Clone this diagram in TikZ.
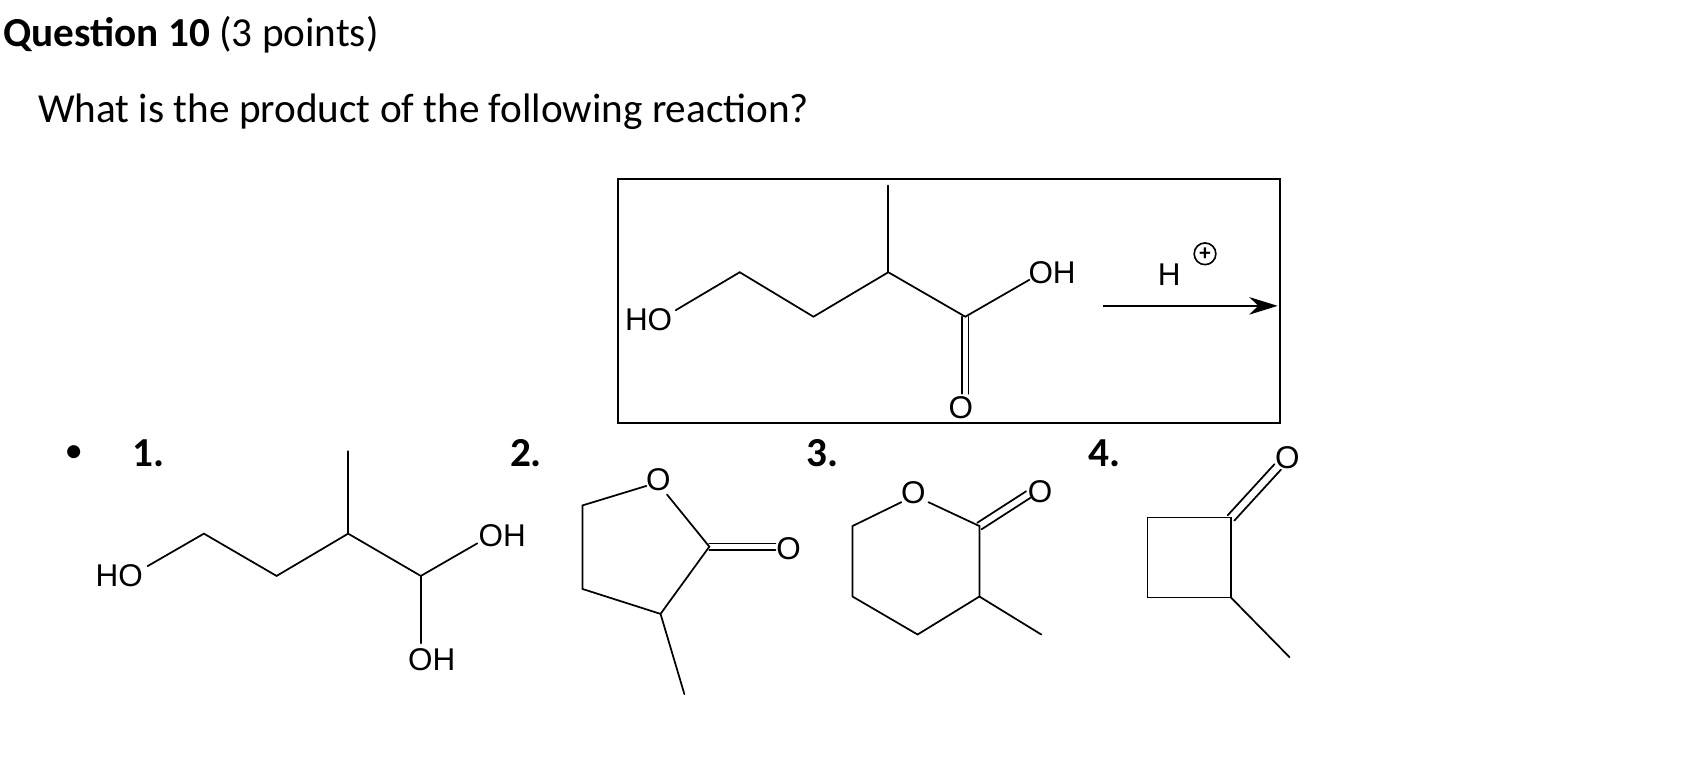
\documentclass[tikz,border=0pt]{standalone}
\usepackage{fontspec}
\setmainfont{Carlito}
\newfontfamily\chemfont{Liberation Sans}
\usetikzlibrary{arrows.meta}
\begin{document}
\begin{tikzpicture}[x=1pt,y=-1pt,
  bond/.style={line width=1.6pt,line cap=round},
  atom/.style={font=\chemfont\fontsize{29}{29}\selectfont,inner sep=0pt},
  optlabel/.style={font=\bfseries\fontsize{38}{38}\selectfont,inner sep=0pt}]
\useasboundingbox (0,0) rectangle (1560,717);
\node[anchor=west,inner sep=0pt,font=\fontsize{38}{38}\selectfont] (title) at (3,32) {\textbf{Question 10} (3 points)};
\node[anchor=west,inner sep=0pt,font=\fontsize{38}{38}\selectfont] (q) at (35,103) {What is the product of the following reaction?};
% box
\draw[line width=1.4pt] (570,165) rectangle (1180,390);
% reactant
\node[atom] (rHO) at (598,295) {HO};
\node[atom] (rOH) at (970,251) {OH};
\node[atom] (rO) at (886,376) {O};
\coordinate (r1) at (682,251); \coordinate (r2) at (750,292); \coordinate (r3) at (819,251);
\coordinate (r4) at (890,292); \coordinate (rm) at (819,171);
\draw[bond] (623,286) -- (r1) -- (r2) -- (r3) -- (r4) -- (949,258);
\draw[bond] (r3) -- (rm);
\draw[bond] (887,292) -- (887,363);
\draw[bond] (893,292) -- (893,363);
\node[atom] (H) at (1078,253) {H};
\node[circle,draw,line width=1.5pt,inner sep=0pt,minimum size=20pt,font=\bfseries\fontsize{21}{21}\selectfont] (plus) at (1111,234) {+};
\coordinate (a1) at (1017,282); \coordinate (a2) at (1178,282);
\draw[line width=2.4pt,-{Stealth[length=26pt,width=16pt,inset=8pt]}] (a1) -- (a2);
% labels
\node[font=\fontsize{34}{34}\selectfont] (bul) at (68,419) {\textbullet};
\node[optlabel] (o1) at (137,418) {1.};
\node[optlabel] (o2) at (485,418) {2.};
\node[optlabel] (o3) at (758,418) {3.};
\node[optlabel] (o4) at (1018,418) {4.};
% option 1
\node[atom] (aHO) at (110,531) {HO};
\node[atom] (aOH1) at (463,494) {OH};
\node[atom] (aOH2) at (398,608) {OH};
\coordinate (b1) at (188,492); \coordinate (b2) at (255,531); \coordinate (b3) at (321,492); \coordinate (b4) at (388,531);
\draw[bond] (136,522) -- (b1) -- (b2) -- (b3) -- (b4) -- (440,501);
\draw[bond] (b3) -- (321,416);
\draw[bond] (b4) -- (388,593);
% option 2
\node[atom] (cO) at (607,442) {O};
\node[atom] (cO2) at (727,506) {O};
\coordinate (c1) at (537,466); \coordinate (c2) at (537,543); \coordinate (c3) at (609,566); \coordinate (c4) at (654,504);
\draw[bond] (596,448) -- (c1) -- (c2) -- (c3) -- (c4) -- (615,456);
\draw[bond] (654,501) -- (715,501);
\draw[bond] (654,507) -- (715,507);
\draw[bond] (c3) -- (631,640);
% option 3
\node[atom] (dO) at (842,454) {O};
\node[atom] (dO2) at (959,453) {O};
\coordinate (d1) at (786,485); \coordinate (d2) at (786,550); \coordinate (d3) at (846,585); \coordinate (d4) at (903,550); \coordinate (d5) at (903,485);
\draw[bond] (831,463) -- (d1) -- (d2) -- (d3) -- (d4) -- (d5) -- (856,463);
\draw[bond] (901,482) -- (946,453);
\draw[bond] (905,488) -- (950,459);
\draw[bond] (d4) -- (960,585);
% option 4
\node[atom] (eO) at (1187,422) {O};
\coordinate (e1) at (1058,477); \coordinate (e2) at (1135,477); \coordinate (e3) at (1135,551); \coordinate (e4) at (1058,551);
\draw[bond] (e1) -- (e2) -- (e3) -- (e4) -- cycle;
\draw[bond] (1132,475) -- (1175,428);
\draw[bond] (1138,480) -- (1181,433);
\draw[bond] (e3) -- (1189,606);
\end{tikzpicture}
\end{document}
